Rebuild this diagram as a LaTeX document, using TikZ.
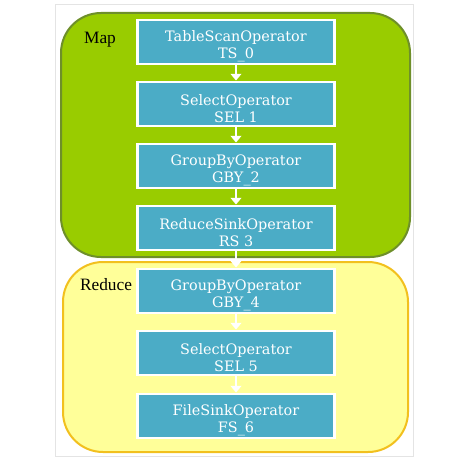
\documentclass[tikz,border=0pt]{standalone}
\usepackage{fontspec}
\setmainfont{Liberation Serif}
\newfontfamily\opfont{DejaVu Serif}
\usetikzlibrary{arrows.meta,shadows}
\definecolor{mapfill}{HTML}{99CC00}
\definecolor{mapline}{HTML}{6E8F2A}
\definecolor{redfill}{HTML}{FFFF99}
\definecolor{redline}{HTML}{F2C01E}
\definecolor{opfill}{HTML}{4BACC6}
\definecolor{pageline}{HTML}{E4E4E4}
\newcommand\optext[2]{\rule{0pt}{15pt}#1\\#2}
\tikzset{
  opbox/.style={draw=white, line width=2.2pt, fill=opfill, minimum width=148pt, minimum height=33pt,
    text=white, align=center, font=\opfont\fontsize{10.8}{12.75}\selectfont, inner sep=0pt,
    drop shadow={shadow xshift=0.8pt, shadow yshift=-0.8pt, opacity=0.25}},
  flow/.style={draw=white, line width=2.2pt, -{Triangle[width=8pt,length=5pt]}},
  stage/.style={font=\fontsize{13}{15}\selectfont, text=black, inner sep=0pt}
}
\begin{document}
\begin{tikzpicture}[x=0.75pt,y=-0.75pt]
\useasboundingbox (0,0) rectangle (474,467);
\fill[white] (0,0) rectangle (474,467);
\draw[pageline, line width=0.6pt] (55,4) rectangle (413,456);
\draw[mapline, fill=mapfill, line width=1.5pt, rounded corners=30pt] (61,13) rectangle (410,257);
\draw[redline, fill=redfill, line width=1.5pt, rounded corners=30pt] (63,262) rectangle (408,452);
\node[stage] (map) at (100,40) {Map};
\node[stage] (reduce) at (106,285) {Reduce};
\node[opbox] (ts) at (236,42) {\optext{TableScanOperator}{TS\_0}};
\node[opbox] (sel1) at (236,104) {\optext{SelectOperator}{SEL 1}};
\node[opbox] (gby2) at (236,166) {\optext{GroupByOperator}{GBY\_2}};
\node[opbox] (rs3) at (236,228) {\optext{ReduceSinkOperator}{RS 3}};
\node[opbox] (gby4) at (236,291) {\optext{GroupByOperator}{GBY\_4}};
\node[opbox] (sel5) at (236,353) {\optext{SelectOperator}{SEL 5}};
\node[opbox] (fs6) at (236,416) {\optext{FileSinkOperator}{FS\_6}};
\foreach \a/\b in {ts/sel1,sel1/gby2,gby2/rs3,rs3/gby4,gby4/sel5,sel5/fs6}
  \draw[flow] (\a.south) -- (\b.north);
\end{tikzpicture}
\end{document}
